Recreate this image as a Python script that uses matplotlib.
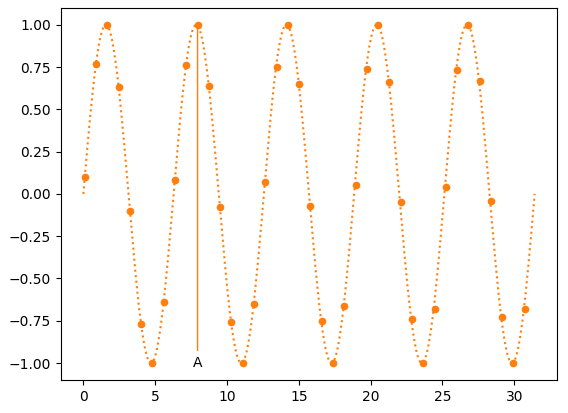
import numpy as np
import matplotlib
matplotlib.use("Agg")
import matplotlib.pyplot as plt

x_pts = [0.10, 0.89, 1.67, 2.46, 3.24, 4.03, 4.81, 5.60, 6.38, 7.17,
         7.95, 8.74, 9.52, 10.31, 11.10, 11.88, 12.67, 13.45, 14.24, 15.02,
         15.81, 16.59, 17.38, 18.16, 18.95, 19.73, 20.52, 21.30, 22.09, 22.88,
         23.66, 24.45, 25.23, 26.02, 26.80, 27.59, 28.37, 29.16, 29.94, 30.73]
y_pts = [0.10, 0.77, 1.00, 0.63, -0.10, -0.77, -1.00, -0.64, 0.08, 0.76,
         1.00, 0.64, -0.08, -0.76, -1.00, -0.65, 0.07, 0.75, 1.00, 0.65,
         -0.07, -0.75, -1.00, -0.66, 0.05, 0.74, 1.00, 0.66, -0.05, -0.74,
         -1.00, -0.68, 0.04, 0.73, 1.00, 0.67, -0.04, -0.73, -1.00, -0.68]

# underlying curve y = sin(x), 0..10*pi
x_line = np.linspace(0, 10 * np.pi, 500)
y_line = np.sin(x_line)

ann_label = "A"
ann_idx = 10

fig, ax = plt.subplots(figsize=(5.68, 4.13), dpi=100)
fig.subplots_adjust(left=0.107, right=0.981, top=0.981, bottom=0.080)

ax.plot(x_line, y_line, ':', color='C1', linewidth=1.5)
ax.plot(x_pts, y_pts, 'o', color='C1', markersize=4.5)

ax.annotate(ann_label, xy=(x_pts[ann_idx], y_pts[ann_idx]),
            xytext=(x_pts[ann_idx], -1.0), ha='center', va='center',
            arrowprops=dict(arrowstyle='-', color='C1'))

fig.savefig("out.png", dpi=100)
